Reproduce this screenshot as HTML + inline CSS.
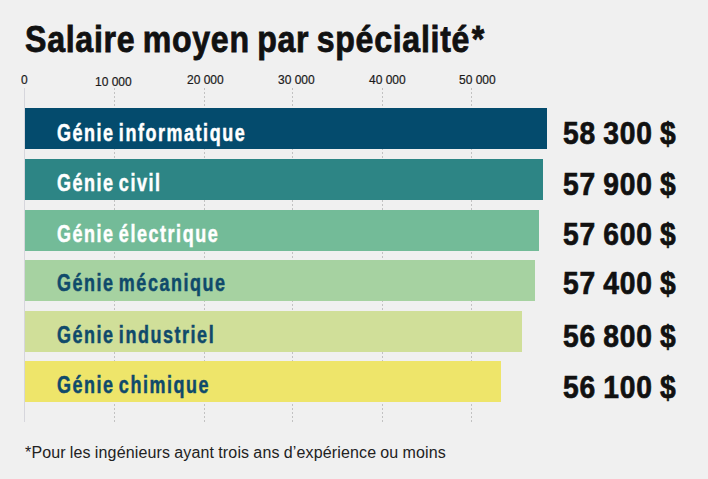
<!DOCTYPE html>
<html><head><meta charset="utf-8">
<style>
html,body{margin:0;padding:0;background:#f0f0f0;}
body{width:708px;height:479px;background:#f0f0f0;position:relative;overflow:hidden;font-family:"Liberation Sans",sans-serif;}
.a{position:absolute;white-space:nowrap;}
.title{left:25px;top:17.5px;font-size:36.5px;font-weight:bold;color:#111;line-height:44px;transform-origin:0 0;transform:scaleX(0.88);letter-spacing:0.8px;word-spacing:-2.5px;-webkit-text-stroke:0.8px #111;}
.tk{font-size:12px;color:#1a1a1a;line-height:14px;-webkit-text-stroke:0.2px #1a1a1a;}
.vl{position:absolute;top:88px;height:334px;width:1px;}
.axis{left:24px;background:#d6d6dc;}
.dot{background:repeating-linear-gradient(to bottom,#c2c2c2 0,#c2c2c2 2px,transparent 2px,transparent 4px);}
.bar{position:absolute;left:25px;height:41.1px;}
.lb{position:absolute;left:57px;font-size:23px;font-weight:bold;line-height:28px;white-space:nowrap;transform-origin:0 0;transform:scaleX(0.78);letter-spacing:2px;word-spacing:-3px;-webkit-text-stroke:0.5px currentColor;}
.val{position:absolute;left:563px;font-size:31px;font-weight:bold;color:#111;line-height:36px;white-space:nowrap;transform-origin:0 0;transform:scaleX(0.91);letter-spacing:0.9px;word-spacing:-1.5px;-webkit-text-stroke:0.7px #111;}
.foot{left:25px;top:443.5px;font-size:16px;color:#222;line-height:18px;letter-spacing:0.15px;word-spacing:-0.5px;}
</style></head><body>
<div class="a title">Salaire moyen par spécialit<span style="letter-spacing:2.5px">é</span>*</div>

<div class="a tk" style="left:21px;top:73px;">0</div>
<div class="a tk" style="left:95px;top:75px;">10 000</div>
<div class="a tk" style="left:187px;top:73px;">20 000</div>
<div class="a tk" style="left:278px;top:73px;">30 000</div>
<div class="a tk" style="left:369px;top:73px;">40 000</div>
<div class="a tk" style="left:459px;top:73px;">50 000</div>

<div class="vl axis"></div>
<div class="vl dot" style="left:114px"></div>
<div class="vl dot" style="left:204px"></div>
<div class="vl dot" style="left:292px"></div>
<div class="vl dot" style="left:382px"></div>
<div class="vl dot" style="left:471px"></div>

<div class="bar" style="top:108.3px;width:522px;background:#044b6d"></div>
<div class="bar" style="top:158.9px;width:518px;background:#2d8585"></div>
<div class="bar" style="top:209.5px;width:513.5px;background:#73bb98"></div>
<div class="bar" style="top:260.2px;width:510px;background:#a6d2a1"></div>
<div class="bar" style="top:310.8px;width:497px;background:#d0df99"></div>
<div class="bar" style="top:361.4px;width:476px;background:#eee56a"></div>

<div class="lb" style="top:118.5px;color:#fff">Génie informatique</div>
<div class="lb" style="top:169.1px;color:#fff">Génie civil</div>
<div class="lb" style="top:219.5px;color:#fff">Génie électrique</div>
<div class="lb" style="top:268.5px;color:#0f4a6b">Génie mécanique</div>
<div class="lb" style="top:320.7px;color:#0f4a6b">Génie industriel</div>
<div class="lb" style="top:371.0px;color:#0f4a6b">Génie chimique</div>

<div class="val" style="top:116.3px">58 300 $</div>
<div class="val" style="top:167.2px">57 900 $</div>
<div class="val" style="top:217.2px">57 600 $</div>
<div class="val" style="top:266.4px">57 400 $</div>
<div class="val" style="top:319.3px">56 800 $</div>
<div class="val" style="top:370.0px">56 100 $</div>

<div class="a foot">*Pour les ingénieurs ayant trois ans d’expérience ou moins</div>
</body></html>
